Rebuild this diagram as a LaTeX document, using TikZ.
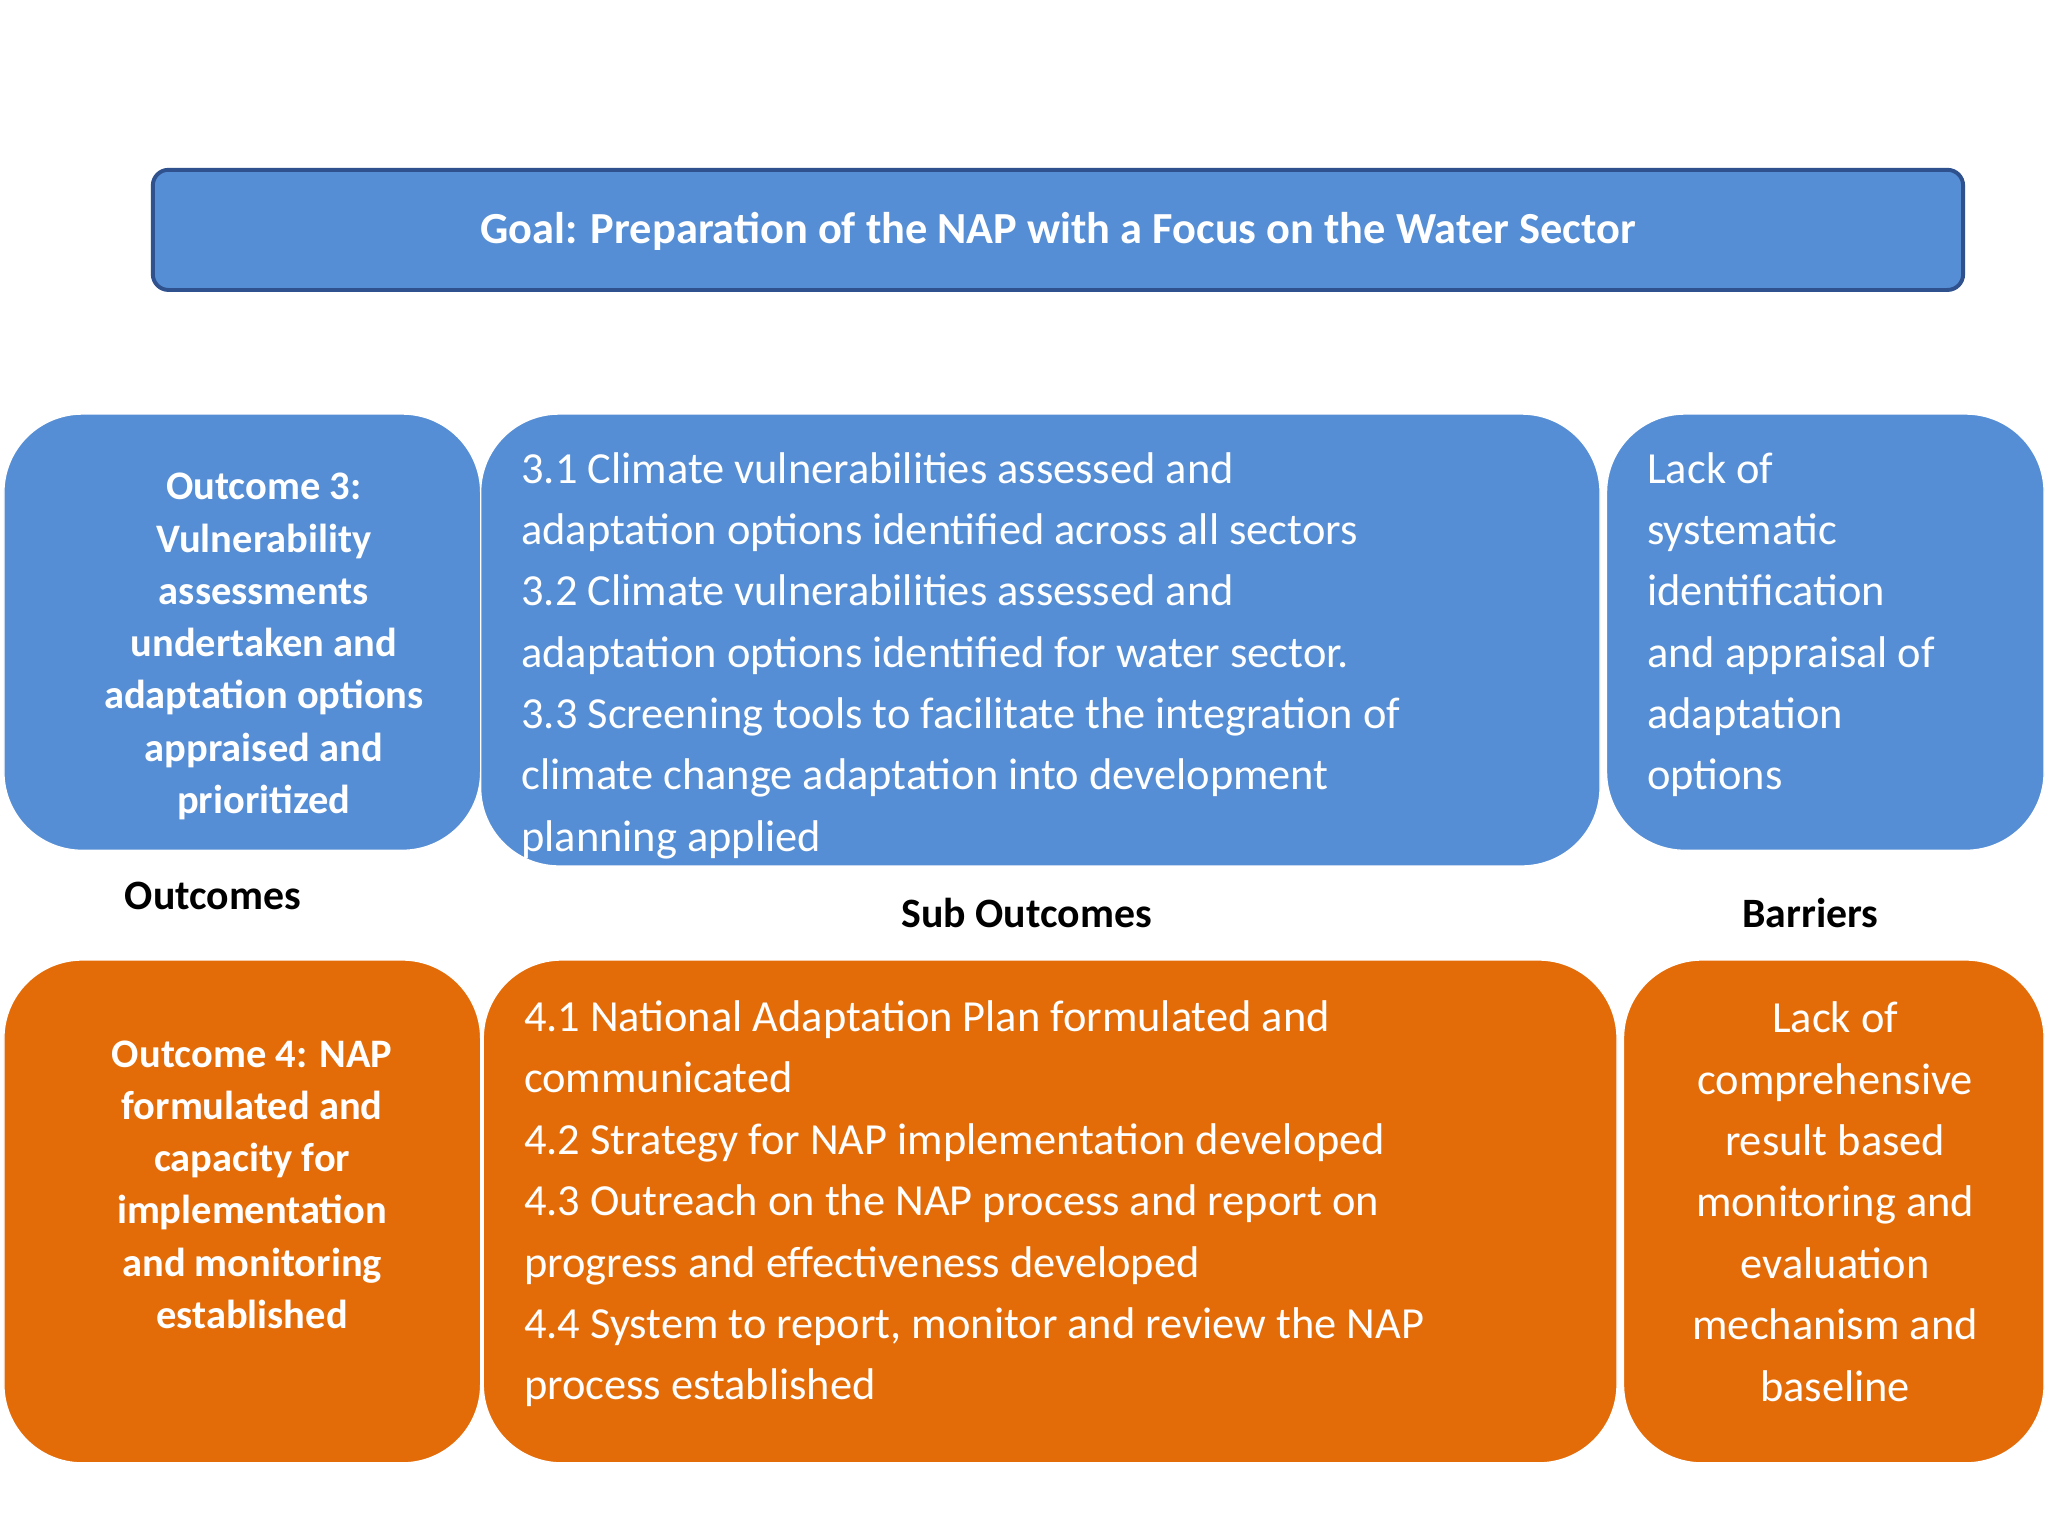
\documentclass[tikz,border=0pt]{standalone}
\usepackage{fontspec}
\setmainfont{Carlito}
\begin{document}
\begin{tikzpicture}[x=1pt,y=1pt]
\definecolor{bl}{HTML}{558ED5}
\definecolor{bld}{HTML}{2F528F}
\definecolor{orr}{HTML}{E36C09}
\tikzset{
 blbox/.style={fill=bl,draw=white,line width=1pt,rounded corners=60pt},
 orbox/.style={fill=orr,draw=white,line width=1pt,rounded corners=60pt},
 big/.style={font=\fontsize{34}{47}\selectfont,text=white,inner sep=0pt},
 sideb/.style={font=\bfseries\fontsize{31}{40}\selectfont,text=white,inner sep=0pt,align=center},
 lab/.style={font=\bfseries\fontsize{32}{38}\selectfont,text=black,inner sep=0pt}
}
\useasboundingbox (0,0) rectangle (1568,-1176);
\fill[white] (0,0) rectangle (1568,-1176);
\draw[fill=bl,draw=bld,line width=3pt,rounded corners=12pt] (117,-130) rectangle (1503,-222);
\node[font=\bfseries\fontsize{34}{40}\selectfont,text=white] (goal) at (810,-177) {Goal: Preparation of the NAP with a Focus on the Water Sector};
\draw[blbox] (3,-317) rectangle (368,-651);
\draw[blbox] (368,-317) rectangle (1225,-663);
\draw[blbox] (1230,-317) rectangle (1565,-651);
\draw[orbox] (3,-735) rectangle (368,-1120);
\draw[orbox] (370,-735) rectangle (1238,-1120);
\draw[orbox] (1243,-735) rectangle (1565,-1120);
\node[sideb] (o3) at (202,-495) {Outcome 3:\\Vulnerability\\assessments\\undertaken and\\adaptation options\\appraised and\\prioritized};
\node[big,anchor=north west,align=left] (s3) at (399,-346) {3.1 Climate vulnerabilities assessed and\\adaptation options identified across all sectors\\3.2 Climate vulnerabilities assessed and\\adaptation options identified for water sector.\\3.3 Screening tools to facilitate the integration of\\climate change adaptation into development\\planning applied};
\node[big,anchor=north west,align=left] (b3) at (1261,-346) {Lack of\\systematic\\identification\\and appraisal of\\adaptation\\options};
\node[lab] (l1) at (163,-686) {Outcomes};
\node[lab] (l2) at (786,-699) {Sub Outcomes};
\node[lab] (l3) at (1386,-699) {Barriers};
\node[sideb] (o4) at (193,-907) {Outcome 4: NAP\\formulated and\\capacity for\\implementation\\and monitoring\\established};
\node[big,anchor=north west,align=left] (s4) at (401,-766) {4.1 National Adaptation Plan formulated and\\communicated\\4.2 Strategy for NAP implementation developed\\4.3 Outreach on the NAP process and report on\\progress and effectiveness developed\\4.4 System to report, monitor and review the NAP\\process established};
\node[big,align=center] (b4) at (1405,-920) {Lack of\\comprehensive\\result based\\monitoring and\\evaluation\\mechanism and\\baseline};
\end{tikzpicture}
\end{document}
